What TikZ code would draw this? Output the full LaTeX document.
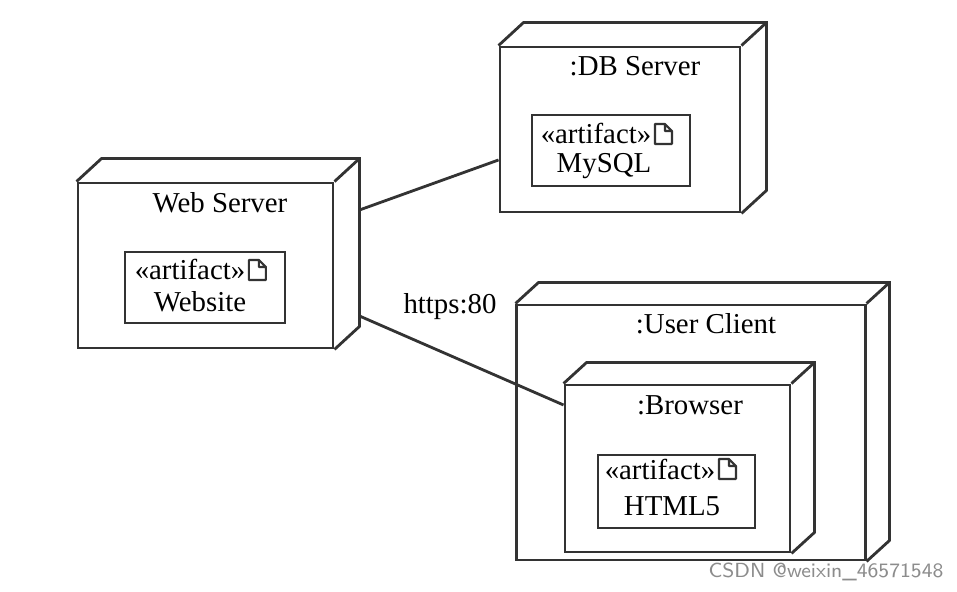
\documentclass[tikz,border=0pt]{standalone}
\usepackage{fontspec}
\setmainfont{Liberation Serif}
\usetikzlibrary{positioning,calc}
\tikzset{box/.style={rectangle,draw=black!80,thick,inner sep=0pt}}
\tikzset{label/.style={font=\fontsize{8.2}{9}\selectfont,inner sep=0pt}}
\newcommand{\cube}[3]{% node name, depth x, depth y
  \draw[thick,black!80] (#1.north west) -- ++(#2,#3) -| ($(#1.south east)+(#2,#3)$) -- (#1.south east)
    (#1.north east) -- ++(#2,#3);}
\newcommand{\docicon}[1]{%
  \draw[black!80,semithick,line join=round] (#1.east) ++(3,10) -- ++(0,-20) -- ++(10,0) -- ++(7,7) -- ++(0,13) -- cycle
    (#1.east) ++(13,-10) -- ++(0,7) -- ++(7,0);}
\begin{document}
\begin{tikzpicture}[x=0.01cm,y=-0.01cm]
  \useasboundingbox (0,0) rectangle (957,592);
  % nodes
  \node[box,minimum width=2.55cm,minimum height=1.65cm] (web) at (205.5,265.5) {};
  \node[box,minimum width=2.40cm,minimum height=1.65cm] (db) at (620,129.5) {};
  \node[box,minimum width=3.48cm,minimum height=2.55cm] (client) at (691,432.5) {};
  \node[box,minimum width=2.25cm,minimum height=1.67cm] (browser) at (677.5,468.5) {};
  \cube{web}{25}{-23}
  \cube{db}{25}{-23}
  \cube{client}{23}{-21}
  \cube{browser}{23}{-21}
  \node[label] (web title) at (220,203) {Web Server};
  \node[label] (db title) at (635,66) {:DB Server};
  \node[label] (client title) at (706,324) {:User Client};
  \node[label] (browser title) at (690,405) {:Browser};
  % artifacts
  \node[box,thin,minimum width=1.60cm,minimum height=0.71cm] (web art) at (205,287.5) {};
  \node[label] (web st) at (190,270) {«artifact»};
  \node[label] (web name) at (200,302) {Website};
  \docicon{web st}
  \node[box,thin,minimum width=1.58cm,minimum height=0.71cm] (db art) at (611,150.5) {};
  \node[label] (db st) at (596,134) {«artifact»};
  \node[label] (db name) at (604,166) {MySQL};
  \docicon{db st}
  \node[box,thin,minimum width=1.57cm,minimum height=0.73cm] (html art) at (676.5,491.5) {};
  \node[label] (html st) at (660,469) {«artifact»};
  \node[label] (html name) at (672,506) {HTML5};
  \docicon{html st}
  % connectors
  \coordinate (web top) at ($(web.east |- 0,210)+(25,0)$);
  \coordinate (web low) at ($(web.east |- 0,316)+(25,0)$);
  \draw[thick,black!80] (web top) -- (db.west |- 0,160);
  \draw[thick,black!80] (web low) -- (browser.west |- 0,405);
  \node[label] (port) at (450,307) {https:80};
  \node[font=\fontsize{5.8}{7}\sffamily,text=black!45] (mark) at (826,572) {CSDN @weixin\_46571548};
\end{tikzpicture}
\end{document}
